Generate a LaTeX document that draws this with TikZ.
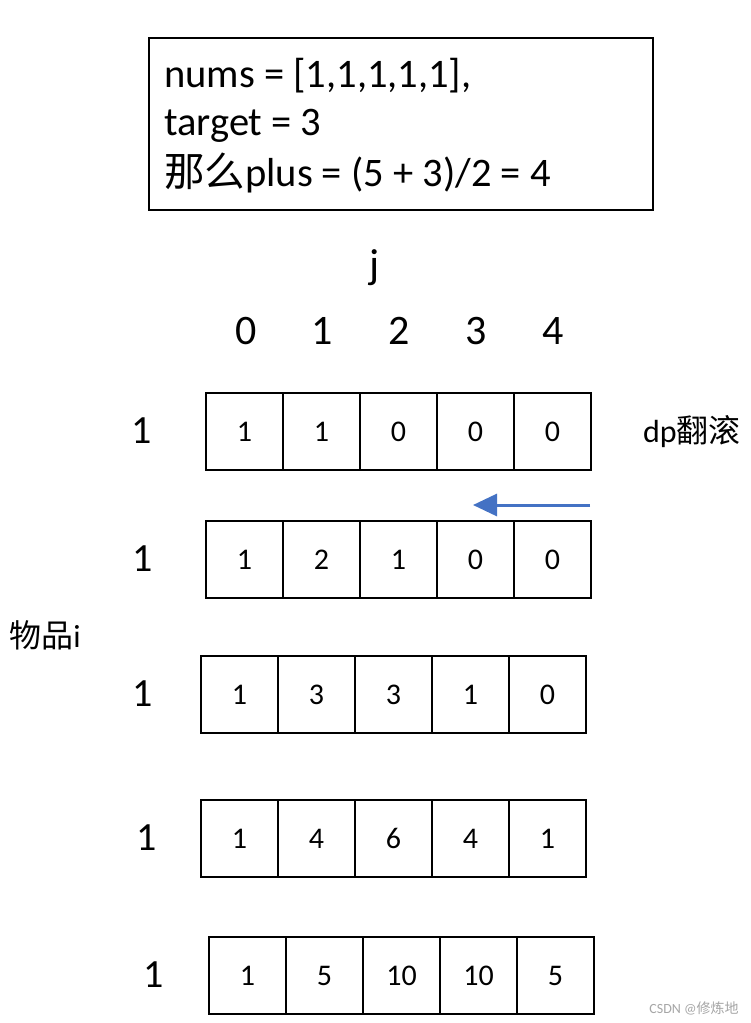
\documentclass[tikz,border=0pt]{standalone}
\usepackage{fontspec}
\setmainfont{Carlito}
\newfontfamily\cjk{Noto Sans CJK SC}
\usetikzlibrary{arrows.meta}
\definecolor{arrowblue}{HTML}{4472C4}
\begin{document}
\begin{tikzpicture}
  [x=1pt,y=-1pt,every node/.style={inner sep=0pt},
   cell/.style={draw,line width=1.4pt,minimum width=77pt,minimum height=77pt,font=\fontsize{30}{32}\selectfont},
   rowlabel/.style={font=\fontsize{40}{44}\selectfont},
   colnum/.style={font=\fontsize{42}{46}\selectfont},
   boxtext/.style={anchor=base west,font=\fontsize{40.5}{44}\selectfont}]
  \useasboundingbox (0,0) rectangle (750,1023);
  \fill[white] (0,0) rectangle (750,1023);

  \node[draw,line width=1.4pt,minimum width=504pt,minimum height=172pt] (info) at (401,124) {};
  \node[boxtext] (nums) at (164,87) {nums = [1,1,1,1,1],};
  \node[boxtext] (target) at (164,135) {target = 3};
  \node[boxtext] (plus) at (164,186) {{\cjk 那么}plus = (5 + 3)/2 = 4};

  \node[colnum] (j) at (375,268) {j};
  \node[colnum] (c0) at (246,331) {0};
  \node[colnum] (c1) at (322,331) {1};
  \node[colnum] (c2) at (399,331) {2};
  \node[colnum] (c3) at (476,331) {3};
  \node[colnum] (c4) at (553,331) {4};

  \node[font=\fontsize{32}{36}\selectfont] (roll) at (692,432) {dp{\cjk 翻滚}};
  \node[font=\fontsize{32}{36}\selectfont] (item) at (45,635) {{\cjk 物品}i};

  \node[rowlabel] (w1) at (142,431) {1};
  \node[rowlabel] (w2) at (143,559) {1};
  \node[rowlabel] (w3) at (143,694) {1};
  \node[rowlabel] (w4) at (147,838) {1};
  \node[rowlabel] (w5) at (154,975) {1};

  \node[cell] (a0) at (244.5,431.5) {1};
  \node[cell] (a1) at (321.5,431.5) {1};
  \node[cell] (a2) at (398.5,431.5) {0};
  \node[cell] (a3) at (475.5,431.5) {0};
  \node[cell] (a4) at (552.5,431.5) {0};

  \node[cell] (b0) at (244.5,559.5) {1};
  \node[cell] (b1) at (321.5,559.5) {2};
  \node[cell] (b2) at (398.5,559.5) {1};
  \node[cell] (b3) at (475.5,559.5) {0};
  \node[cell] (b4) at (552.5,559.5) {0};

  \node[cell] (d0) at (239.5,694.5) {1};
  \node[cell] (d1) at (316.5,694.5) {3};
  \node[cell] (d2) at (393.5,694.5) {3};
  \node[cell] (d3) at (470.5,694.5) {1};
  \node[cell] (d4) at (547.5,694.5) {0};

  \node[cell] (e0) at (239.5,838.5) {1};
  \node[cell] (e1) at (316.5,838.5) {4};
  \node[cell] (e2) at (393.5,838.5) {6};
  \node[cell] (e3) at (470.5,838.5) {4};
  \node[cell] (e4) at (547.5,838.5) {1};

  \node[cell] (f0) at (247.5,975.5) {1};
  \node[cell] (f1) at (324.5,975.5) {5};
  \node[cell] (f2) at (401.5,975.5) {10};
  \node[cell] (f3) at (478.5,975.5) {10};
  \node[cell] (f4) at (555.5,975.5) {5};

  \coordinate (from) at (590,505);
  \coordinate (to) at (473,505);
  \draw[arrowblue,line width=3pt,-{Triangle[length=24pt,width=22pt]}] (from) -- (to);

  \node[text=black!35,font=\fontsize{14}{16}\selectfont] (mark) at (694,1008) {CSDN @{\cjk 修炼地}};

\end{tikzpicture}
\end{document}
